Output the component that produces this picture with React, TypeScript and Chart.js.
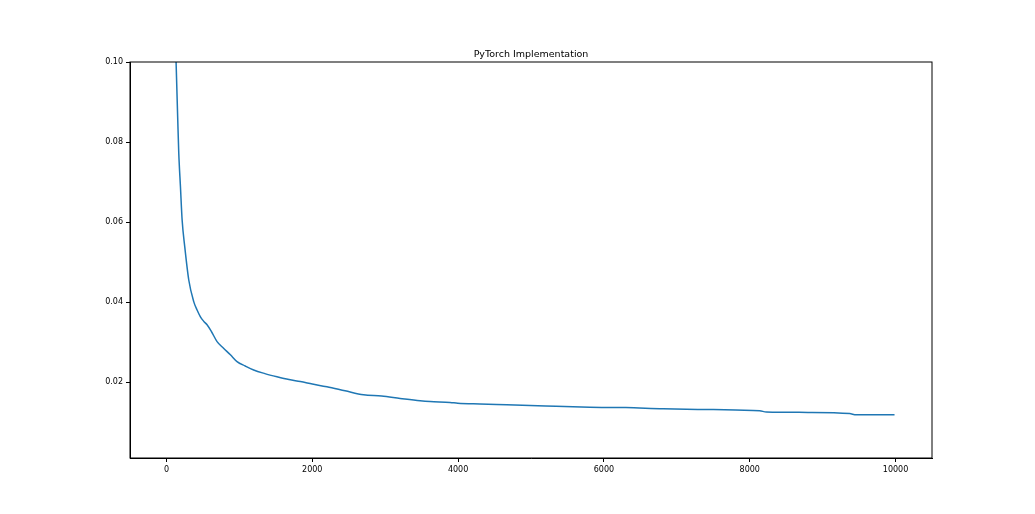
import React, { useEffect, useRef } from "react";
import { Chart, registerables } from "chart.js";

Chart.register(...registerables);

const TITLE = "PyTorch Implementation";

const steps = [
  0, 50, 100, 132, 155, 169, 192, 215, 251, 306, 374, 420, 466, 510, 557,
  620, 694, 780, 877, 968, 1080, 1196, 1350, 1516, 1680, 1836, 2000, 2201, 2450,
  2703, 2950, 3205, 3479, 3616, 3890, 3995, 4300, 4667, 5200, 5808, 6300, 6813,
  7500, 8137, 8228, 8800, 9370, 9461, 9986,
];

const loss = [
  0.3, 0.19, 0.123, 0.1, 0.0855, 0.0772, 0.0688, 0.0605, 0.0538, 0.0455,
  0.0401, 0.038, 0.0363, 0.0352, 0.0343, 0.0325, 0.0301, 0.0285, 0.0268,
  0.0251, 0.0240, 0.0230, 0.0221, 0.0213, 0.0206, 0.0201, 0.0195, 0.0188, 0.0178,
  0.0168, 0.0165, 0.0159, 0.0153, 0.0151, 0.0149, 0.0147, 0.0145, 0.0143, 0.0140,
  0.0137, 0.0136, 0.0133, 0.0131, 0.0128, 0.0125, 0.0124, 0.0121, 0.0118, 0.0118,
];

const xTicks = [0, 2000, 4000, 6000, 8000, 10000];
const yTicks = [0.02, 0.04, 0.06, 0.08, 0.1];

const frame = {
  id: "frame",
  afterDraw(chart: any) {
    const { ctx, chartArea } = chart;
    const { left, right, top, bottom } = chartArea;
    ctx.save();
    ctx.strokeStyle = "#000";
    ctx.lineWidth = 1;
    ctx.strokeRect(left, top, right - left, bottom - top);
    ctx.fillStyle = "#000";
    ctx.font = "9.5px 'DejaVu Sans'";
    ctx.textAlign = "center";
    ctx.textBaseline = "alphabetic";
    ctx.fillText(TITLE, (left + right) / 2, top - 5);
    ctx.restore();
  },
};

export default function App() {
  const ref = useRef<HTMLCanvasElement | null>(null);
  useEffect(() => {
    document.body.style.margin = "0";
    const points = steps.map((s, i) => ({ x: s, y: loss[i] }));
    const chart = new Chart(ref.current as HTMLCanvasElement, {
      type: "line",
      data: {
        datasets: [
          {
            data: points,
            borderColor: "#1f77b4",
            borderWidth: 1.5,
            pointRadius: 0,
            cubicInterpolationMode: "monotone",
            fill: false,
          },
        ],
      },
      options: {
        animation: false,
        responsive: false,
        maintainAspectRatio: false,
        layout: { padding: { left: 0, right: 103, top: 62, bottom: 0 } },
        plugins: { legend: { display: false }, tooltip: { enabled: false }, title: { display: false } },
        scales: {
          x: {
            type: "linear",
            min: -500,
            max: 10500,
            afterBuildTicks: (s: any) => {
              s.ticks = xTicks.map((v) => ({ value: v }));
            },
            afterFit: (s: any) => {
              s.height = 56;
            },
            grid: { drawOnChartArea: false, drawTicks: true, tickLength: 4, color: "#000" },
            border: { display: true, color: "#000" },
            ticks: {
              color: "#000",
              font: { family: "'DejaVu Sans'", size: 8 },
              padding: 3,
              maxRotation: 0,
              callback: (v: any) => String(v),
            },
          },
          y: {
            type: "linear",
            min: 0.001,
            max: 0.1,
            afterBuildTicks: (s: any) => {
              s.ticks = yTicks.map((v) => ({ value: v }));
            },
            afterFit: (s: any) => {
              s.width = 130;
            },
            grid: { drawOnChartArea: false, drawTicks: true, tickLength: 4, color: "#000" },
            border: { display: true, color: "#000" },
            ticks: {
              color: "#000",
              font: { family: "'DejaVu Sans'", size: 8 },
              padding: 3,
              callback: (v: any) => Number(v).toFixed(2),
            },
          },
        },
      },
      plugins: [frame],
    });
    return () => chart.destroy();
  }, []);
  return (
    <div style={{ width: 1035, height: 514, background: "#fff" }}>
      <canvas ref={ref} width={1035} height={514} style={{ width: 1035, height: 514 }} />
    </div>
  );
}
